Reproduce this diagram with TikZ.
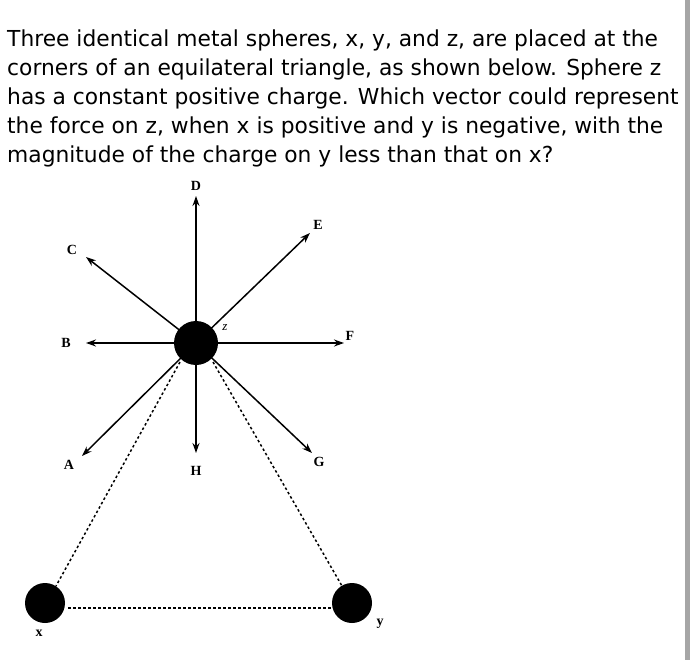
\documentclass[tikz,border=0pt]{standalone}
\usepackage{fontspec}
\setmainfont{DejaVu Sans}
\newfontfamily\lserif{Liberation Serif}
\usetikzlibrary{arrows.meta}
\begin{document}
\begin{tikzpicture}[x=1pt,y=-1pt,
  vec/.style={line width=1.5pt,-{Stealth[length=10pt,width=7pt]}},
  lab/.style={font=\lserif\bfseries\fontsize{14}{14}\selectfont,inner sep=0pt},
  dots/.style={line width=1.5pt,dash pattern=on 2.5pt off 2.5pt},
  txt/.style={anchor=base west,inner sep=0pt,font=\fontsize{22}{22}\selectfont}]
\useasboundingbox[fill=white] (0,0) rectangle (698,660);
\fill[gray!70] (685,0) rectangle (690,660);
\node[txt] (l1) at (7,47) {\scalebox{0.99}[1]{Three identical metal spheres, x, y, and z, are placed at the}};
\node[txt] (l2) at (7,76) {\scalebox{0.99}[1]{corners of an equilateral triangle, as shown below. Sphere z}};
\node[txt] (l3) at (7,105) {\scalebox{0.99}[1]{has a constant positive charge. Which vector could represent}};
\node[txt] (l4) at (7,134) {\scalebox{0.99}[1]{the force on z, when x is positive and y is negative, with the}};
\node[txt] (l5) at (7,163) {\scalebox{0.99}[1]{magnitude of the charge on y less than that on x?}};
\fill (196,343) circle (22) coordinate (z);
\fill (45,603) circle (20) coordinate (x);
\fill (352,603) circle (20) coordinate (y);
\coordinate (D) at (196,196); \coordinate (E) at (310,233); \coordinate (C) at (86,257);
\coordinate (B) at (86,343); \coordinate (F) at (344,343); \coordinate (A) at (82,456);
\coordinate (H) at (196,453); \coordinate (G) at (312,453);
\foreach \p in {D,E,C,B,F,A,H,G} \draw[vec] (z) -- (\p);
\node[lab] (Dl) at (196,186) {D};
\node[lab] (El) at (318,225) {E};
\node[lab] (Cl) at (72,250) {C};
\node[lab] (Bl) at (66,343) {B};
\node[lab] (Fl) at (350,336) {F};
\node[lab] (Al) at (69,465) {A};
\node[lab] (Hl) at (196,471) {H};
\node[lab] (Gl) at (319,462) {G};
\node[lab,font=\lserif\itshape\fontsize{13}{13}\selectfont] (zl) at (225,328) {z};
\node[lab] (xl) at (39,633) {x};
\node[lab] (yl) at (380,624) {y};
\draw[dots] (180,362) -- (56,586);
\draw[dots] (213,362) -- (342,586);
\draw[dots] (68,608) -- (331,608);
\end{tikzpicture}
\end{document}
